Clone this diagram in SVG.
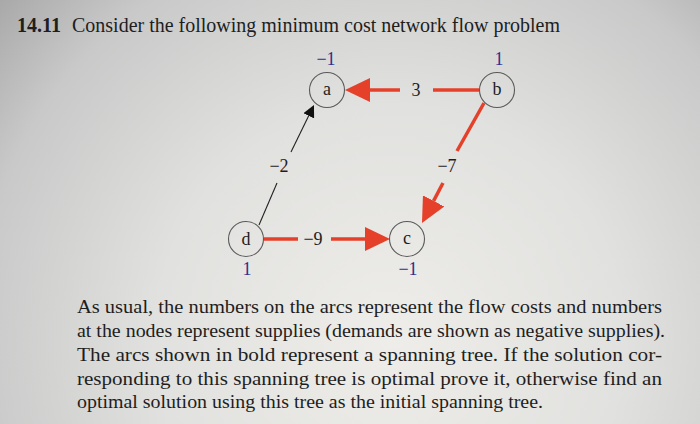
<svg xmlns="http://www.w3.org/2000/svg" width="700" height="424" viewBox="0 0 700 424">
<defs>
<radialGradient id="bg" cx="390" cy="340" r="520" gradientUnits="userSpaceOnUse">
<stop offset="0" stop-color="#eeede9"/>
<stop offset="0.45" stop-color="#e1e1df"/>
<stop offset="0.8" stop-color="#c9c9c9"/>
<stop offset="1" stop-color="#a8a8a8"/>
</radialGradient>
<marker id="ar" markerUnits="userSpaceOnUse" viewBox="0 -12 25 24" refX="0" refY="0" markerWidth="25" markerHeight="24" orient="auto">
<path d="M0,-12 L25,0 L0,12 z" fill="#e5402a"/>
</marker>
<marker id="ab" markerUnits="userSpaceOnUse" viewBox="0 -6 12 12" refX="0" refY="0" markerWidth="12" markerHeight="12" orient="auto">
<path d="M0,-6 L12,0 L0,6 z" fill="#111"/>
</marker>
</defs>
<style>
.t{font-family:"Liberation Serif","Times New Roman",serif;fill:#1e1e1e}
.body{font-size:19.5px}
.lbl{font-size:18px;text-anchor:middle}
.sup{font-size:18px;text-anchor:middle;fill:#2c2f8f}
.node{fill:none;stroke:#5a5a5a;stroke-width:1.1}
.red{stroke:#e5402a;stroke-width:3.5;fill:none}
.blk{stroke:#222;stroke-width:1.1;fill:none}
</style>
<rect width="700" height="424" fill="url(#bg)"/>

<text class="t" x="17" y="32" font-size="20" font-weight="bold">14.11</text>
<text class="t" x="72" y="32" font-size="20.5" textLength="488" lengthAdjust="spacingAndGlyphs">Consider the following minimum cost network flow problem</text>

<g id="connectors">
<g id="arc-b-a">
<line class="red" x1="479" y1="90" x2="433" y2="90"/>
<line class="red" x1="400" y1="90" x2="370" y2="90" marker-end="url(#ar)"/>
<text class="t lbl" x="416" y="96">3</text>
</g>
<g id="arc-d-c">
<line class="red" x1="264" y1="239" x2="298" y2="239"/>
<line class="red" x1="331" y1="239" x2="365" y2="239" marker-end="url(#ar)"/>
<text class="t lbl" x="313" y="245">−9</text>
</g>
<g id="arc-b-c">
<line class="red" x1="484" y1="103" x2="457" y2="151"/>
<line class="red" x1="443" y1="183" x2="433.6" y2="200.9" marker-end="url(#ar)"/>
<text class="t lbl" x="447" y="172">−7</text>
</g>
<g id="arc-d-a">
<line class="blk" x1="259" y1="225" x2="277" y2="183"/>
<line class="blk" x1="291" y1="152" x2="308.7" y2="115.8" marker-end="url(#ab)"/>
<text class="t lbl" x="279" y="172">−2</text>
</g>
</g>

<g id="node-a">
<circle class="node" cx="327" cy="90" r="17.5"/>
<text class="t lbl" x="327" y="95">a</text>
<text class="t sup" x="326" y="65">−1</text>
</g>
<g id="node-b">
<circle class="node" cx="497" cy="90" r="17.5"/>
<text class="t lbl" x="497" y="95">b</text>
<text class="t sup" x="499" y="65">1</text>
</g>
<g id="node-d">
<circle class="node" cx="246" cy="239" r="17.5"/>
<text class="t lbl" x="246" y="245">d</text>
<text class="t sup" x="247" y="275">1</text>
</g>
<g id="node-c">
<circle class="node" cx="407" cy="239" r="17.5"/>
<text class="t lbl" x="407" y="244">c</text>
<text class="t sup" x="408" y="275">−1</text>
</g>

<text class="t body" x="77" y="313" textLength="585" lengthAdjust="spacingAndGlyphs">As usual, the numbers on the arcs represent the flow costs and numbers</text>
<text class="t body" x="77" y="337" textLength="588" lengthAdjust="spacingAndGlyphs">at the nodes represent supplies (demands are shown as negative supplies).</text>
<text class="t body" x="77" y="361" textLength="585" lengthAdjust="spacingAndGlyphs">The arcs shown in bold represent a spanning tree.  If the solution cor-</text>
<text class="t body" x="77" y="385" textLength="585" lengthAdjust="spacingAndGlyphs">responding to this spanning tree is optimal prove it, otherwise find an</text>
<text class="t body" x="77" y="408" textLength="466" lengthAdjust="spacingAndGlyphs">optimal solution using this tree as the initial spanning tree.</text>
</svg>
